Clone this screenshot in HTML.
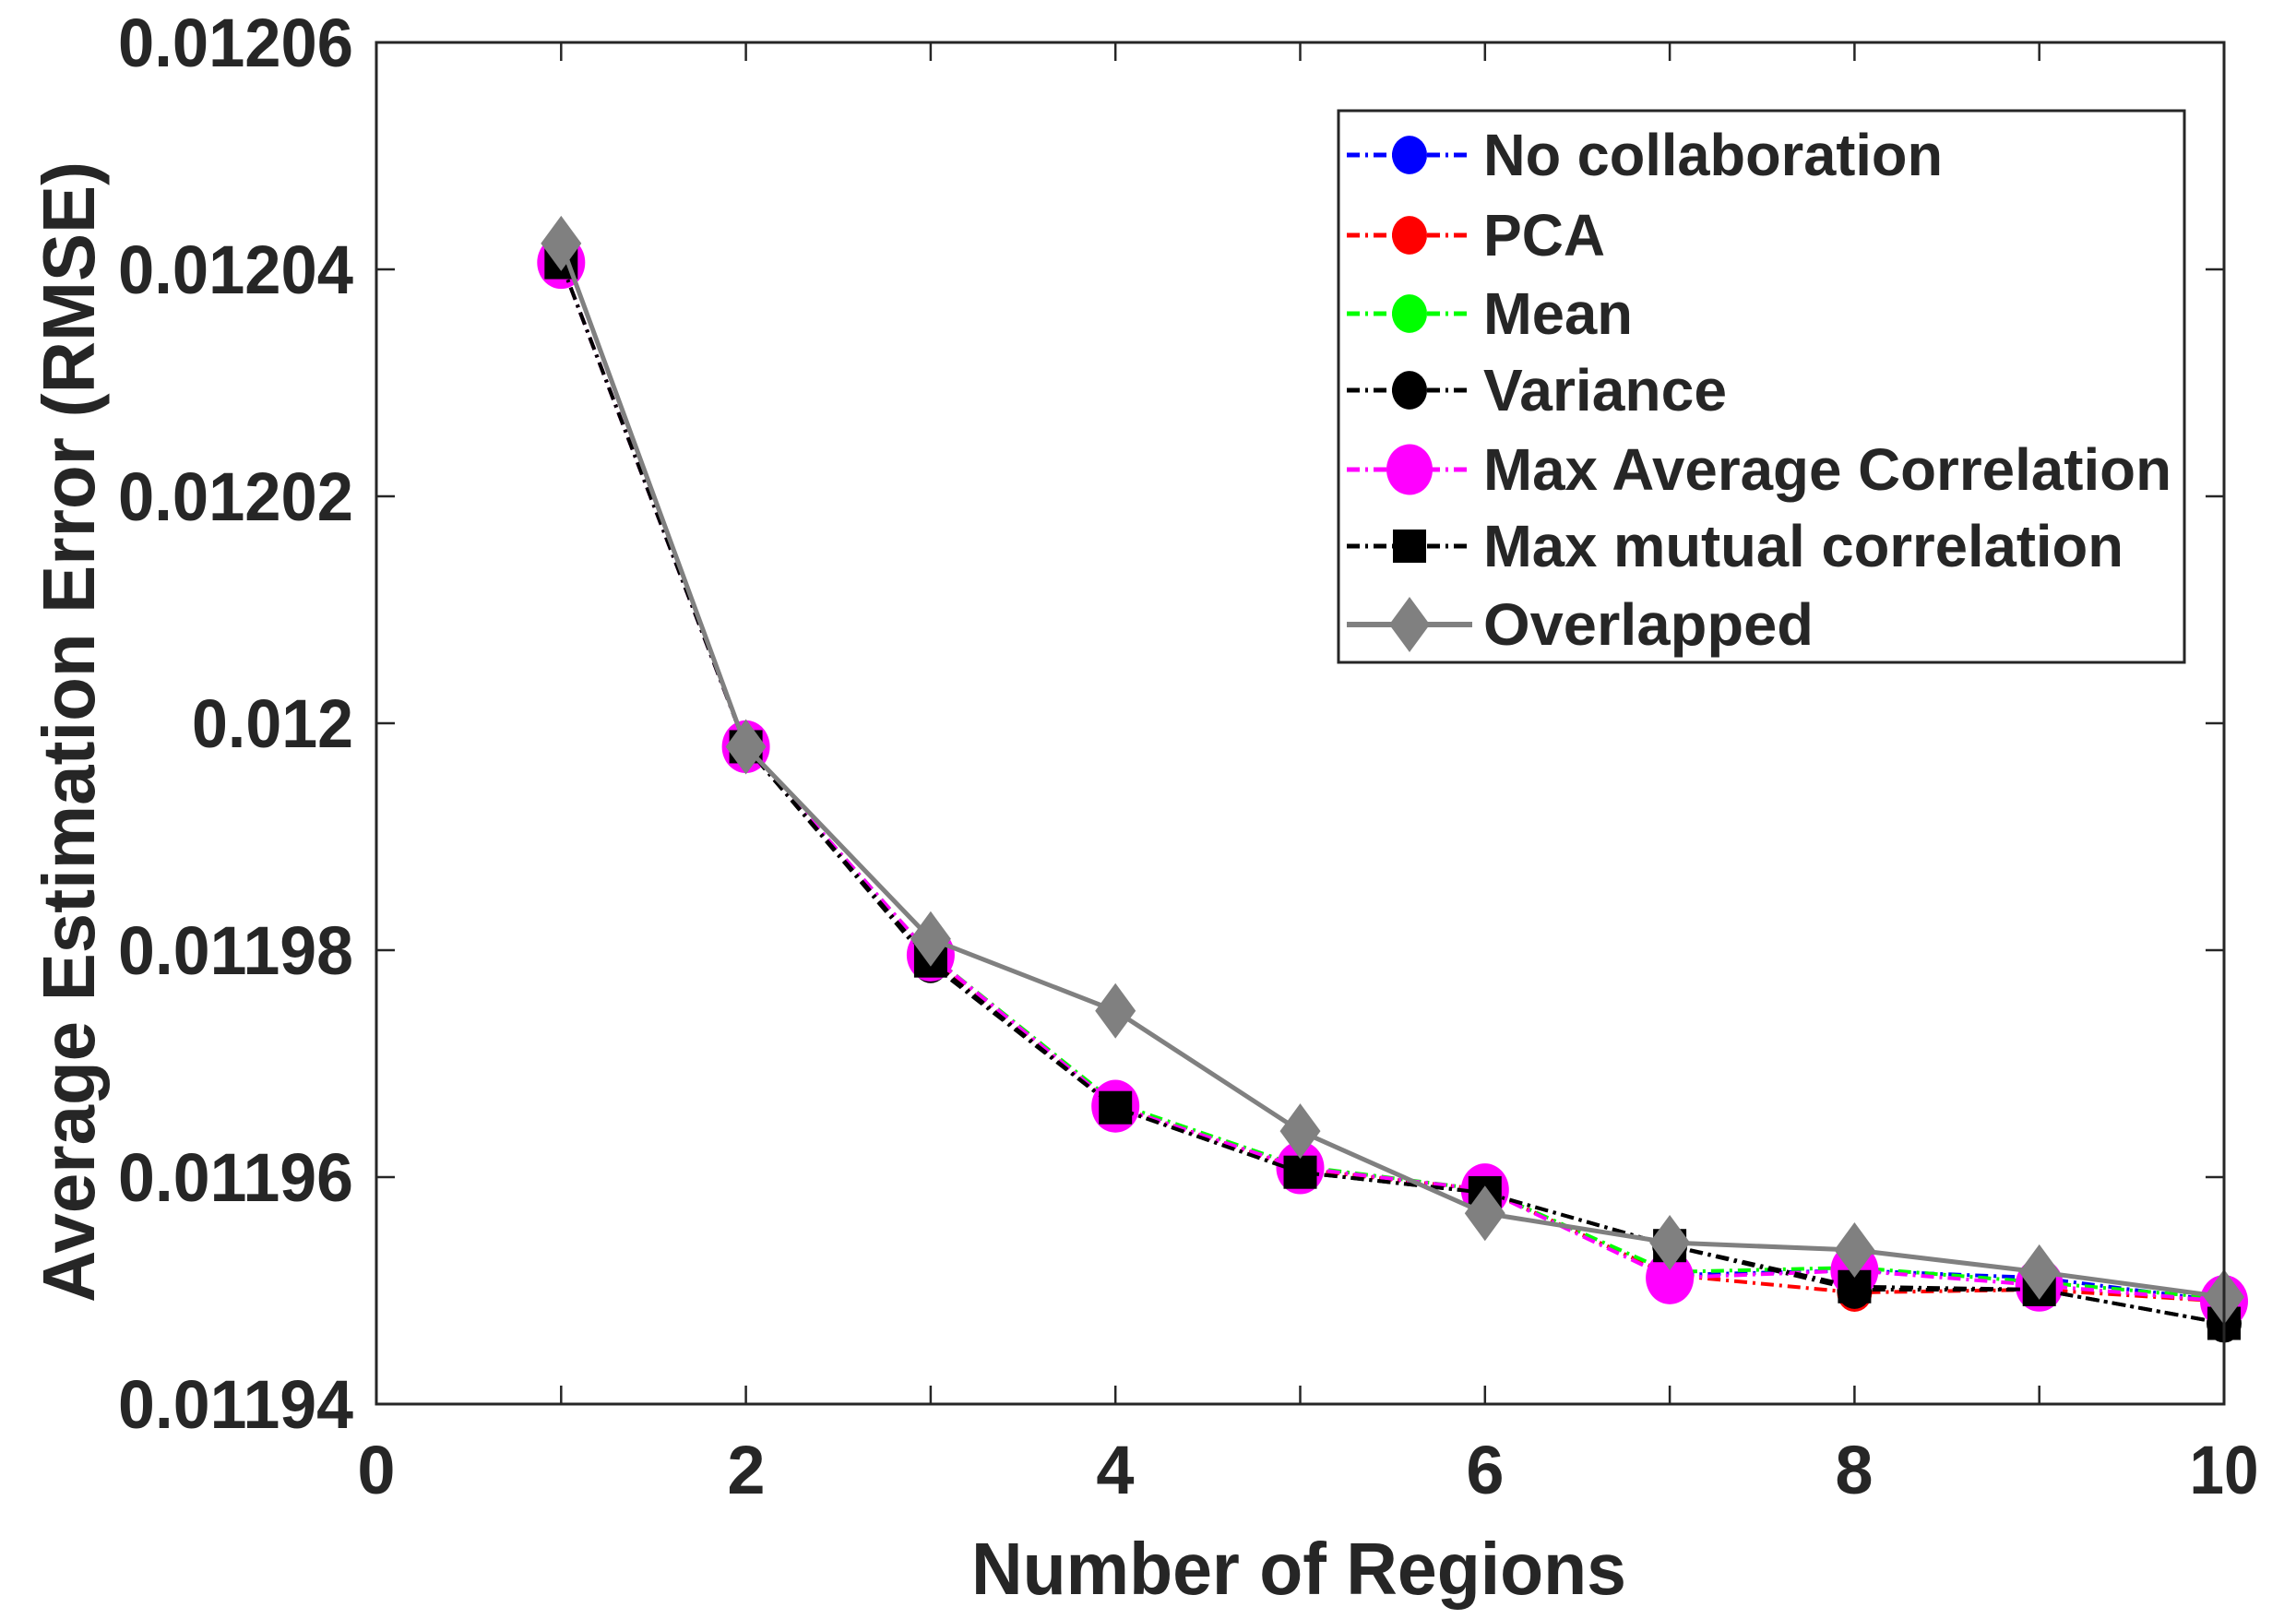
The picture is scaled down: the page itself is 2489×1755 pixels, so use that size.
<!DOCTYPE html>
<html><head><meta charset="utf-8"><style>
html,body{margin:0;padding:0;background:#fff;}
svg{display:block;}
text{font-family:"Liberation Sans",Arial,sans-serif;font-weight:bold;fill:#262626;}
</style></head><body>
<svg id="s" width="2489" height="1755" viewBox="0 0 2489 1755" xmlns="http://www.w3.org/2000/svg">
<rect width="2489" height="1755" fill="#fff"/>
<g id="plot"></g>
<rect x="408" y="46" width="2003" height="1476" fill="none" stroke="#262626" stroke-width="3"/>
<g id="ticks" stroke="#262626" stroke-width="2.5"></g>
<g font-size="74" text-anchor="end">
<text x="383" y="72" textLength="255" lengthAdjust="spacingAndGlyphs">0.01206</text>
<text x="383" y="318" textLength="255" lengthAdjust="spacingAndGlyphs">0.01204</text>
<text x="383" y="564" textLength="255" lengthAdjust="spacingAndGlyphs">0.01202</text>
<text x="383" y="810" textLength="175" lengthAdjust="spacingAndGlyphs">0.012</text>
<text x="383" y="1056" textLength="255" lengthAdjust="spacingAndGlyphs">0.01198</text>
<text x="383" y="1302" textLength="255" lengthAdjust="spacingAndGlyphs">0.01196</text>
<text x="383" y="1548" textLength="255" lengthAdjust="spacingAndGlyphs">0.01194</text>
</g>
<g font-size="74" text-anchor="middle">
<text x="408" y="1619">0</text>
<text x="809" y="1619">2</text>
<text x="1209" y="1619">4</text>
<text x="1610" y="1619">6</text>
<text x="2010" y="1619">8</text>
<text x="2411" y="1619" textLength="75" lengthAdjust="spacingAndGlyphs">10</text>
</g>
<text x="1053" y="1728" font-size="80" textLength="710" lengthAdjust="spacingAndGlyphs">Number of Regions</text>
<text transform="translate(102,1412) rotate(-90)" font-size="80" textLength="1237" lengthAdjust="spacingAndGlyphs">Average Estimation Error (RMSE)</text>
<rect x="1451" y="120" width="917" height="598" fill="#fff" stroke="#262626" stroke-width="3"/>
<g id="legend"></g>
<g font-size="64" fill="#000">
<text x="1608" y="190" textLength="498" lengthAdjust="spacingAndGlyphs">No collaboration</text>
<text x="1608" y="277" textLength="132" lengthAdjust="spacingAndGlyphs">PCA</text>
<text x="1608" y="362" textLength="162" lengthAdjust="spacingAndGlyphs">Mean</text>
<text x="1608" y="445" textLength="264" lengthAdjust="spacingAndGlyphs">Variance</text>
<text x="1608" y="531" textLength="746" lengthAdjust="spacingAndGlyphs">Max Average Correlation</text>
<text x="1608" y="614" textLength="694" lengthAdjust="spacingAndGlyphs">Max mutual correlation</text>
<text x="1608" y="699" textLength="358" lengthAdjust="spacingAndGlyphs">Overlapped</text>
</g>
</svg>
<script>
const NS="http://www.w3.org/2000/svg";
const plot=document.getElementById("plot"),ticks=document.getElementById("ticks"),leg=document.getElementById("legend");
function el(p,t,a){const e=document.createElementNS(NS,t);for(const k in a)e.setAttribute(k,a[k]);p.appendChild(e);return e;}
const X=i=>408+200.3*i, Y=d=>46+(d-30)/928*1476;
for(let i=1;i<10;i++){const x=X(i);el(ticks,"line",{x1:x,y1:1522,x2:x,y2:1502});el(ticks,"line",{x1:x,y1:46,x2:x,y2:66});}
for(let j=1;j<6;j++){const y=46+246*j;el(ticks,"line",{x1:408,y1:y,x2:428,y2:y});el(ticks,"line",{x1:2411,y1:y,x2:2391,y2:y});}
const S=[
["#0000ff","circle",19,[180,510,655,755,798,812,870,867,872,888]],
["#ff0000","circle",19,[180,510,655,755,798,812,870,882,880,888]],
["#00ff00","circle",19,[180,510,652,753,796,812,868,865,875,886]],
["#000000","circle",19,[180,510,658,756,800,814,850,880,880,903]],
["#ff00ff","circle",26,[180,510,652,755,797,812,872,867,877,888]],
["#000000","square",18,[180,510,656,756,800,814,850,878,880,903]],
["#808080","diamond",0,[167,510,641,690,772,828,848,853,868,885]]];
function marker(p,type,x,y,r,c){
 if(type=="circle")el(p,"ellipse",{cx:x,cy:y,rx:r,ry:r*1.1,fill:c});
 else if(type=="square")el(p,"rect",{x:x-r,y:y-r,width:2*r,height:2*r,fill:c});
 else el(p,"polygon",{points:`${x},${y-30} ${x+22},${y} ${x},${y+30} ${x-22},${y}`,fill:c});
}
S.forEach(([c,t,r,d])=>{
 const pts=d.map((v,i)=>X(i+1)+","+Y(v)).join(" ");
 el(plot,"polyline",{points:pts,fill:"none",stroke:c,"stroke-width":t=="diamond"?5:4,"stroke-dasharray":t=="diamond"?"":"14 6 3 6"});
 d.forEach((v,i)=>marker(plot,t,X(i+1),Y(v),r,c));
});
const LY=[168,255,340,423,509,592,677];
S.forEach(([c,t,r],i)=>{
 el(leg,"line",{x1:1460,y1:LY[i],x2:1596,y2:LY[i],stroke:c,"stroke-width":t=="diamond"?6:5,"stroke-dasharray":t=="diamond"?"":"14 6 3 6"});
 marker(leg,t,1528,LY[i],t=="circle"?(r>20?25:19):r,c);
});
</script>
</body></html>
